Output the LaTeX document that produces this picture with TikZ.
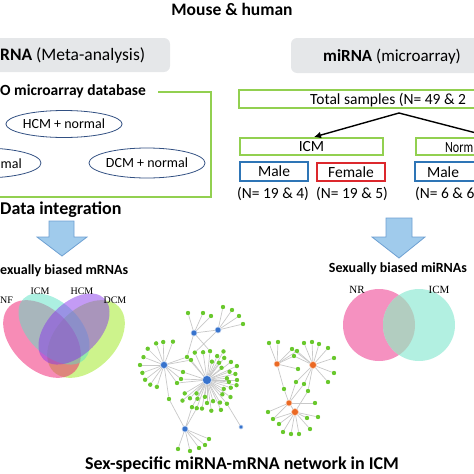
\documentclass[tikz,border=0pt]{standalone}
\usepackage{fontspec}
\setmainfont{Carlito}
\newfontfamily\timesfont{Liberation Serif}
\usetikzlibrary{arrows.meta,calc,shapes.geometric}
\pgfdeclarelayer{bg}
\pgfsetlayers{bg,main}
\definecolor{greenline}{RGB}{146,208,80}
\definecolor{boxblue}{RGB}{46,117,182}
\definecolor{boxred}{RGB}{220,40,45}
\definecolor{panelgray}{RGB}{229,231,233}
\definecolor{ellblue}{RGB}{50,80,130}
\definecolor{arrfill}{RGB}{160,203,236}
\definecolor{arrline}{RGB}{110,160,210}
\definecolor{vpink}{RGB}{240,25,110}
\definecolor{vgreen}{RGB}{155,232,25}
\definecolor{vcyan}{RGB}{90,225,195}
\definecolor{vpurple}{RGB}{135,55,235}
\definecolor{cpink}{RGB}{245,145,192}
\definecolor{ccyan}{RGB}{178,240,225}
\definecolor{cmix}{RGB}{178,205,192}
\definecolor{leafgreen}{RGB}{105,200,45}
\definecolor{hubblue}{RGB}{55,115,205}
\definecolor{huborange}{RGB}{235,105,35}
\definecolor{edgegray}{RGB}{200,200,200}
\tikzset{
  fs/.style={font=\fontsize{#1}{#1}\selectfont},
  fsb/.style={font=\fontsize{#1}{#1}\selectfont\bfseries},
  fst/.style={font=\timesfont\fontsize{#1}{#1}\selectfont},
  txt/.style={inner sep=0pt},
  panel/.style={fill=panelgray, rounded corners=6, inner sep=0pt},
  gbox/.style={draw=greenline, line width=1.8pt, inner sep=0pt},
  bbox/.style={draw=boxblue, line width=1.8pt, inner sep=0pt},
  rbox/.style={draw=boxred, line width=1.8pt, inner sep=0pt},
  gline/.style={draw=greenline, line width=1.5pt},
  ell/.style={ellipse, draw=ellblue, line width=0.8pt, inner sep=0pt},
  blkarr/.style={draw=black, line width=1.4pt},
  bigarrow/.style={fill=arrfill, draw=arrline, line width=0.8pt},
  venn/.style={fill opacity=0.5},
  leaf/.style={circle, fill=leafgreen, inner sep=0pt, minimum size=4.4},
  bhub/.style={circle, fill=hubblue, draw=hubblue!30, line width=0.6pt, inner sep=0pt},
  ohub/.style={circle, fill=huborange, draw=huborange!30, line width=0.6pt, inner sep=0pt},
  edge/.style={draw=edgegray, line width=0.7pt}
}
\begin{document}
\begin{tikzpicture}[x=1pt,y=-1pt]
\useasboundingbox (0,0) rectangle (474,474);
\clip (0,0) rectangle (474,474);

% title
\node[txt, fsb=17.5] (title) at (232,9) {Mouse \& human};

% ---------- left column ----------
\node[panel, minimum width=180, minimum height=34] (lpanel) at (80,55) {};
\node[txt, fs=17.5, anchor=west] (ltext) at (0,56) {\textbf{RNA} (Meta-analysis)};

\node[txt, fsb=15.5, anchor=west] (geo) at (0,91) {O microarray database};
\coordinate (f1) at (158,92);
\coordinate (f2) at (211,92);
\coordinate (f3) at (211,197);
\coordinate (f4) at (-5,197);
\draw[gline] (f1) -- (f2) -- (f3) -- (f4);

\node[ell, minimum width=116, minimum height=27, fs=14] (hcm) at (64,124) {HCM + normal};
\node[ell, minimum width=116, minimum height=30, fs=14] (dcm) at (147,163) {DCM + normal};
\node[ell, minimum width=116, minimum height=30] (icmn) at (-17,163) {};
\node[txt, fs=14, anchor=east] (icmntxt) at (22,164) {mal};

\node[txt, fsb=18, anchor=west] (integ) at (0,210) {Data integration};
\draw[bigarrow] (49,221) -- (74,221) -- (74,237) -- (87,237) -- (62,256) -- (37,237) -- (49,237) -- cycle;

\node[txt, fsb=14, anchor=west] (sbm) at (0,271) {exually biased mRNAs};

\fill[vgreen, venn, rotate around={45:(86,339)}] (86,339) ellipse [x radius=46, y radius=30];
\fill[vpink, venn, rotate around={-45:(42,339)}] (42,339) ellipse [x radius=46, y radius=30];
\fill[vcyan, venn, rotate around={-45:(54,329)}] (54,329) ellipse [x radius=43, y radius=26];
\fill[vpurple, venn, rotate around={45:(74,329)}] (74,329) ellipse [x radius=43, y radius=26];
\node[txt, fst=10, anchor=west] (lnf) at (0,300) {NF};
\node[txt, fst=10] (licm) at (40,291) {ICM};
\node[txt, fst=10] (lhcm) at (82,291) {HCM};
\node[txt, fst=10] (ldcm) at (115,300) {DCM};

% ---------- right column ----------
\node[panel, minimum width=199, minimum height=35] (rpanel) at (390.5,55.5) {};
\node[txt, fs=17, anchor=west] (rtext) at (323,57) {\textbf{miRNA} (microarray)};

\node[gbox, minimum width=241, minimum height=18] (total) at (359.5,99) {};
\node[txt, fs=15.5, anchor=west] (totaltxt) at (310,100) {Total samples (N= 49 \& 2};

\node[gbox, minimum width=143, minimum height=17, fs=15.5] (icmbox) at (311.5,146.5) {ICM};
\node[gbox, minimum width=64, minimum height=17] (normbox) at (448,146.5) {};
\node[txt, fs=15.5, anchor=west, xscale=0.78] (normtxt) at (445,147.5) {Norm};

\coordinate (split) at (399,113);
\coordinate (icmtip) at (314,137);
\coordinate (normtip) at (480,134);
\draw[blkarr, -{Latex[length=7,width=7]}] (split) -- (icmtip);
\draw[blkarr] (split) -- (normtip);

\node[bbox, minimum width=68, minimum height=19, fs=15.5] (male1) at (274,171.5) {Male};
\node[rbox, minimum width=68, minimum height=18, fs=15.5] (female) at (351,172) {Female};
\node[bbox, minimum width=68, minimum height=19] (male2) at (449,171.5) {};
\node[txt, fs=15.5] (male2txt) at (443,172) {Male};
\node[txt, fs=15.5] (n1) at (273,194) {(N= 19 \& 4)};
\node[txt, fs=15.5] (n2) at (352,194) {(N= 19 \& 5)};
\node[txt, fs=15.5, anchor=west] (n3) at (415,194) {(N= 6 \& 6};

\draw[bigarrow] (386,218) -- (412,218) -- (412,237) -- (425,237) -- (399,258) -- (372,237) -- (386,237) -- cycle;
\node[txt, fsb=14] (sbmi) at (398,269) {Sexually biased miRNAs};

\node[circle, fill=cpink, minimum size=72, inner sep=0pt] (nrc) at (379,325) {};
\node[circle, fill=ccyan, minimum size=72, inner sep=0pt] (icmc) at (419,325) {};
\begin{scope}
\clip (nrc.center) circle (36);
\fill[cmix] (icmc.center) circle (36);
\end{scope}
\node[txt, fst=11] (lnr) at (357,290) {NR};
\node[txt, fst=11] (licm2) at (439,290) {ICM};

% ---------- network ----------
\node[bhub, minimum size=6] (A) at (194,333) {};
\node[bhub, minimum size=6] (B) at (218,330) {};
\node[bhub, minimum size=7] (C) at (164,365) {};
\node[bhub, minimum size=9] (D) at (207,380) {};
\node[bhub, minimum size=6] (E) at (185,429) {};
\node[bhub, minimum size=4] (F) at (241,427) {};
\node[ohub, minimum size=6] (O1) at (277,364) {};
\node[ohub, minimum size=7] (O2) at (313,365) {};
\node[ohub, minimum size=6] (O3) at (289,403) {};
\node[ohub, minimum size=7] (O4) at (295,412) {};

\foreach \n/\x/\y in {a1/188/313, a2/203/313, a3/211/316,
  b1/223/307, b2/232/310, b3/239/316, b4/243/324,
  s1/177/383, s2/181/379, s3/183/372, s4/187/357, s5/191/360,
  g1/169/399, e1/178/449, e2/190/451, e3/199/448, e4/205/445, e5/209/439,
  p1/269/343, p2/278/342, p3/298/369, q1/292/349, q2/297/351, q3/294/356,
  r1/304/343, r2/312/342, r3/319/344, r4/328/348, r5/334/358, r6/334/373, r7/328/382,
  t1/296/382, t2/304/384, t3/308/391, u1/284/389,
  v1/268/412, v2/273/419, v3/315/403,
  w1/279/424, w2/283/432, w3/291/434, w4/299/434, w5/310/429, w6/307/418, w7/318/417}
  \node[leaf] (\n) at (\x,\y) {};

\foreach \a/\r [count=\i] in {180/24, 201/22, 225/23, 250/23, 268/23, 291/25, 160/23, 142/24, 125/24, 108/23}
  \node[leaf] (c\i) at ($(C)+(\a:\r)$) {};

\foreach \a/\r [count=\i] in {246/30, 262/28, 276/29, 293/26, 308/28, 323/30, 335/33, 348/29, 0/30, 10/30,
  18/25, 36/29, 43/21, 50/31, 60/26, 74/22, 90/23, 100/29, 110/30, 119/31,
  117/21, 133/25, 149/26, 285/19, 320/19, 355/20, 28/19, 305/21, 340/24, 5/22,
  65/33, 82/31, 97/17, 128/17, 140/32, 300/33}
  \node[leaf] (d\i) at ($(D)+(\a:\r)$) {};

\begin{pgfonlayer}{bg}
\foreach \i in {1,...,10} \draw[edge] (C) -- (c\i);
\foreach \i in {1,...,36} \draw[edge] (D) -- (d\i);
\foreach \l in {a1,a2,a3} \draw[edge] (A) -- (\l);
\foreach \l in {b1,b2,b3,b4} \draw[edge] (B) -- (\l);
\foreach \l in {s1,s2,s3,s4,s5} \draw[edge] (C) -- (\l) (D) -- (\l);
\foreach \l in {e1,e2,e3,e4,e5} \draw[edge] (E) -- (\l);
\draw[edge] (A) -- (B);
\draw[edge] (C) -- (g1) -- (E);
\draw[edge] (E) -- (d19) (E) -- (d20) (F) -- (d14) (A) -- (d3) (B) -- (d1) (A) -- (s4);
\foreach \l in {p1,p2,p3,q1,q2,q3,u1} \draw[edge] (O1) -- (\l);
\foreach \l in {q1,q2,q3,r1,r2,r3,r4,r5,r6,r7,t1,t2,t3} \draw[edge] (O2) -- (\l);
\foreach \l in {t1,t2,u1,v1,v2,v3} \draw[edge] (O3) -- (\l);
\foreach \l in {t3,v2,w1,w2,w3,w4,w5,w6,w7} \draw[edge] (O4) -- (\l);
\draw[edge] (O3) -- (O4);
\end{pgfonlayer}

\node[txt, fsb=18] (bottom) at (242,465) {Sex-specific miRNA-mRNA network in ICM};
\end{tikzpicture}
\end{document}
